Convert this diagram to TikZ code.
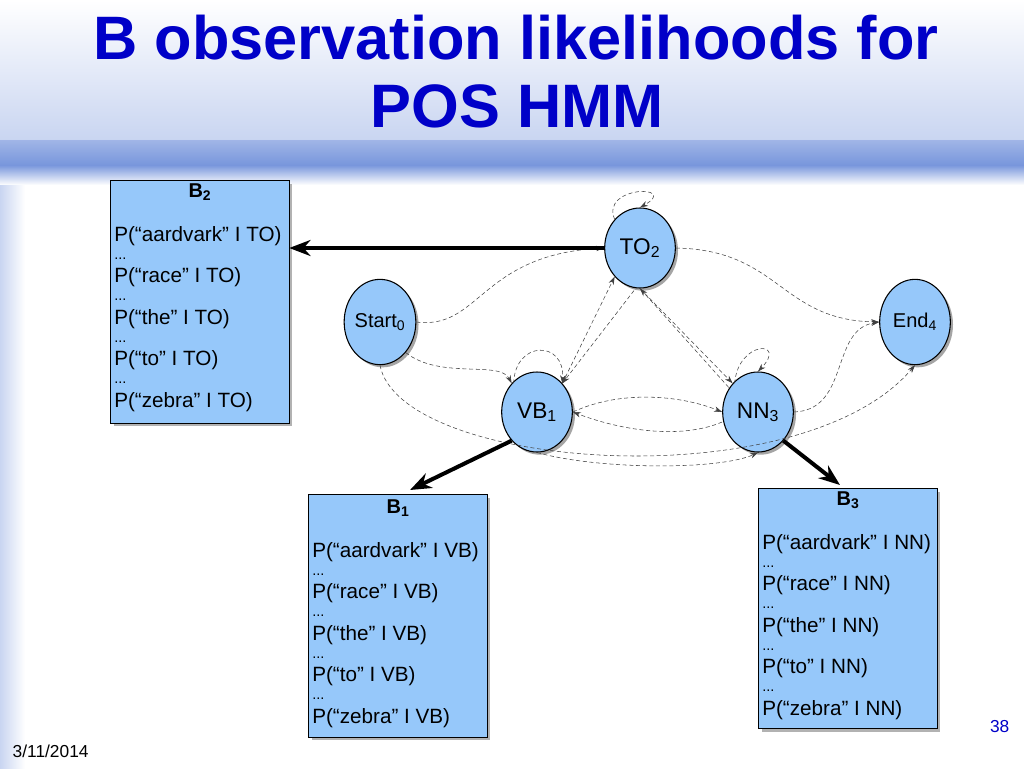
\documentclass[tikz,border=0pt]{standalone}
\usepackage{fontspec}
\setmainfont{Liberation Sans}
\usetikzlibrary{shapes.geometric,arrows.meta,shadows}
\definecolor{nodeblue}{RGB}{150,200,250}
\definecolor{titleblue}{RGB}{0,0,200}
\definecolor{bandblue}{RGB}{120,150,220}
\begin{document}
\begin{tikzpicture}[x=0.75pt,y=-0.75pt,
  st/.style={ellipse,draw=black,thick,fill=nodeblue,minimum width=53pt,minimum height=60pt,inner sep=0pt,font=\fontsize{17}{18}\selectfont,drop shadow={shadow xshift=2pt,shadow yshift=-2pt,fill=black!70}},
  bbox/.style={draw=black,fill=nodeblue,minimum width=134pt,minimum height=182pt,drop shadow={shadow xshift=2.5pt,shadow yshift=-2.5pt,fill=black!60}},
  tr/.style={densely dashed,gray!50!black,line width=0.4pt,-{Stealth[length=6pt,width=4pt]}},
  big/.style={line width=3pt,-{Stealth[length=16pt,width=12pt]}},
  lbl/.style={anchor=base west,font=\fontsize{15.5}{16}\selectfont,inner sep=0pt},
  dts/.style={anchor=base west,font=\fontsize{11}{11}\selectfont,inner sep=0pt}]
\useasboundingbox (0,0) rectangle (1024,768);
\fill[white] (0,0) rectangle (1024,768);
\shade[top color=white,bottom color=bandblue!40] (0,0) rectangle (1024,140);
\shade[top color=bandblue!70,bottom color=bandblue] (0,140) rectangle (1024,165);
\shade[top color=bandblue,bottom color=white] (0,165) rectangle (1024,185);
\shade[left color=bandblue!40,right color=white] (0,185) rectangle (25,768);
\node (t1) at (516,38) {\fontsize{46}{50}\selectfont\bfseries\color{titleblue}B observation likelihoods for};
\node (t2) at (517,106) {\fontsize{46}{50}\selectfont\bfseries\color{titleblue}POS HMM};
% boxes
\node[bbox,anchor=north west] (b2) at (110,180) {};
\node[bbox,anchor=north west] (b1) at (308,494) {};
\node[bbox,anchor=north west,minimum height=180pt] (b3) at (758,488) {};
\foreach \bx/\ty/\sub/\tag in {112/197/2/TO,310/513/1/VB,760/505/3/NN}{
  \pgfmathsetmacro{\cx}{\bx+88}
  \node[font=\fontsize{15}{16}\selectfont\bfseries,anchor=base] at (\cx,\ty) {B\textsubscript{\sub}};
  \foreach \w [count=\i from 0] in {aardvark,race,the,to,zebra}{
    \pgfmathsetmacro{\yy}{\ty+44+41.5*\i}
    \node[lbl] at (\bx+2,\yy) {P(“\w” I \tag)};
  }
  \foreach \i in {0,1,2,3}{
    \pgfmathsetmacro{\yy}{\ty+62+41.5*\i}
    \node[dts] at (\bx+2,\yy) {...};
  }
}
% states
\node[st] (to) at (640,248) {TO\textsubscript{2}};
\node[st,minimum height=64pt,font=\fontsize{15}{16}\selectfont] (start) at (380,322) {Start\textsubscript{0}};
\node[st,minimum height=64pt,font=\fontsize{15}{16}\selectfont] (end) at (915,322) {End\textsubscript{4}};
\node[st] (vb) at (537,412) {VB\textsubscript{1}};
\node[st] (nn) at (758,412) {NN\textsubscript{3}};
% transitions
\draw[tr] (start.east) .. controls (480,330) and (480,255) .. (to.west);
\draw[tr] (start.south east) .. controls (440,380) and (500,360) .. (vb.north west);
\draw[tr] (start.south) .. controls (400,470) and (800,500) .. (end.south);
\draw[tr] (vb.south) .. controls (600,470) and (720,470) .. (nn.south);
\draw[tr] (to.north west) .. controls (600,185) and (680,185) .. (to.north);
\draw[tr] (vb.north west) ++(2,0) .. controls (515,340) and (565,340) .. (vb.north east);
\draw[tr] (nn.north west) ++(2,0) .. controls (738,340) and (788,340) .. (nn.north);
\draw[tr] (to.east) .. controls (780,250) and (780,320) .. (end.west);
\draw[tr] (nn.east) .. controls (850,410) and (830,330) .. (end.west);
\draw[tr] (vb.north east) -- (to.south west);
\draw[tr] (to.south) ++(-6,2) -- (vb.north east);
\draw[tr] (to.south) -- (nn.north west);
\draw[tr] (nn.north west) ++(-4,4) -- (to.south);
\draw[tr] (vb.east) .. controls (620,390) and (680,395) .. (nn.west);
\draw[tr] (nn.west) ++(0,10) .. controls (680,440) and (620,430) .. (vb.east);
% thick arrows
\draw[big] (to.west) -- (b2.east |- to.west);
\draw[big] (vb.south west) -- (410,490);
\draw[big] (nn.south east) -- (840,485);
\node[anchor=base west,font=\fontsize{13}{14}\selectfont] (date) at (8,757) {3/11/2014};
\node[anchor=base east,font=\fontsize{13}{14}\selectfont,text=titleblue] (pg) at (1014,732) {38};
\end{tikzpicture}
\end{document}
